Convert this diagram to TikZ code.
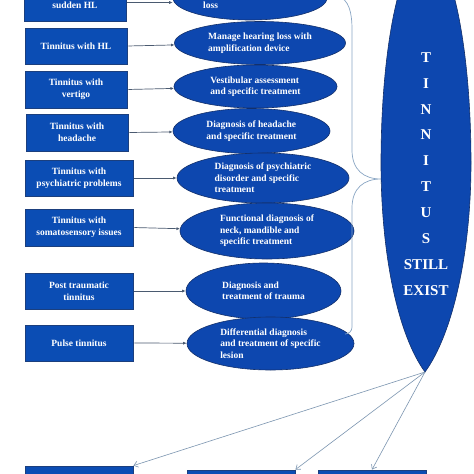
\documentclass[tikz,border=0pt]{standalone}
\usepackage{fontspec}
\setmainfont{Liberation Serif}
\usetikzlibrary{shapes.geometric,arrows.meta}
\definecolor{boxfill}{HTML}{0B4DB4}
\definecolor{boxline}{HTML}{1B3F7E}
\definecolor{ovalfill}{HTML}{0D47AF}
\definecolor{ovalline}{HTML}{13306B}
\definecolor{linkgray}{HTML}{4A5A70}
\definecolor{bracegray}{HTML}{8AA6C4}
\newcommand{\Tfont}{\fontsize{9.5}{12}\selectfont\bfseries}
\newcommand{\Ofont}{\fontsize{9.5}{11.5}\selectfont\bfseries}
\tikzset{
  typebox/.style={rectangle, draw=boxline, line width=0.8pt, fill=boxfill, text=white,
    font=\Tfont, align=center, inner sep=0pt, minimum height=36pt},
  careoval/.style={ellipse, draw=ovalline, line width=0.6pt, fill=ovalfill, text=white,
    font=\Ofont, align=left, inner sep=0pt},
  link/.style={draw=linkgray, line width=0.7pt, -{Latex[length=3.5pt,width=3pt]}, shorten <=1pt},
  outlink/.style={draw=linkgray!80, line width=0.6pt, -{Straight Barb[length=4pt,width=6pt]}, color=bracegray!90!black}
}

\begin{document}
\begin{tikzpicture}[x=1pt, y=-1pt]
    \useasboundingbox[fill=white] (0,0) rectangle (474,474);
    % left column
    \node[typebox, minimum width=102pt, minimum height=37pt] (b1) at (75,2.5) {\mbox{}\\sudden HL};
    \node[typebox, minimum width=102pt] (b2) at (76,46) {Tinnitus with HL};
    \node[typebox, minimum width=102pt, minimum height=37pt] (b3) at (76,89.5) {Tinnitus with\\vertigo};
    \node[typebox, minimum width=102pt, minimum height=37pt] (b4) at (77,132.5) {Tinnitus with\\headache};
    \node[typebox, minimum width=108pt] (b5) at (79,178) {Tinnitus with\\psychiatric problems};
    \node[typebox, minimum width=108pt, minimum height=37pt] (b6) at (79,227.5) {Tinnitus with\\somatosensory issues};
    \node[typebox, minimum width=108pt] (b7) at (79,291) {Post traumatic\\tinnitus};
    \node[typebox, minimum width=108pt] (b8) at (79,343) {Pulse tinnitus};
    % middle column
    \node[careoval, minimum width=154pt, minimum height=44pt] (e1) at (250,-2) {};
    \node[text=white, font=\Ofont, anchor=base west, inner sep=0pt] (e1txt) at (203,8) {loss};
    \node[careoval, minimum width=171pt, minimum height=43pt] (e2) at (260,43) {Manage hearing loss with\\amplification device};
    \node[careoval, minimum width=163pt, minimum height=43pt] (e3) at (255.5,86.5) {Vestibular assessment\\and specific treatment};
    \node[careoval, minimum width=157pt, minimum height=45pt] (e4) at (251.5,131) {Diagnosis of headache\\and specific treatment};
    \node[careoval, minimum width=172pt, minimum height=50pt] (e5) at (263,178) {Diagnosis of psychiatric\\disorder and specific\\treatment};
    \node[careoval, minimum width=174pt, minimum height=56pt] (e6) at (267,231) {Functional diagnosis of\\neck, mandible and\\specific treatment};
    \node[careoval, minimum width=155pt, minimum height=56pt] (e7) at (263.5,291) {Diagnosis and\\treatment of trauma};
    \node[careoval, minimum width=167pt, minimum height=53pt] (e8) at (270.5,343.5) {Differential diagnosis\\and treatment of specific\\lesion};
    % arrows
    \draw[link] (b1.east) -- (e1.west |- b1.east);
    \foreach \i in {2,...,8}
        \draw[link] (b\i.east) -- (e\i);
    % brace
    \draw[bracegray, line width=0.7pt] (338,-4) .. controls (349,0) and (352,12) .. (352,30) -- (352,150)
        .. controls (352,170) and (364,179) .. (381,179)
        .. controls (364,179) and (352,188) .. (352,208) -- (352,327)
        .. controls (352,331) and (349,334) .. (345,334);
    % big shape
    \draw[draw=ovalline, line width=0.6pt, fill=ovalfill] (425,372)
        .. controls (398,335) and (381,255) .. (381,163)
        arc[start angle=180, end angle=360, x radius=45, y radius=213]
        .. controls (471,255) and (452,335) .. (425,372) -- cycle;
    \coordinate (tip) at (425,372);
    \node[text=white, font=\fontsize{15}{25.9}\selectfont\bfseries, align=center] (tinnitus) at (426,174)
        {T\\I\\N\\N\\I\\T\\U\\S\\STILL\\EXIST};
    % bottom row
    \node[typebox, minimum width=108pt] (ba) at (79,484) {};
    \node[typebox, minimum width=108pt] (bb) at (241,488) {};
    \node[typebox, minimum width=108pt] (bc) at (372,488) {};
    \draw[outlink] (tip) -- (ba.north east);
    \draw[outlink] (tip) -- (bb.north east);
    \draw[outlink] (tip) -- (bc.north);
\end{tikzpicture}
\end{document}
